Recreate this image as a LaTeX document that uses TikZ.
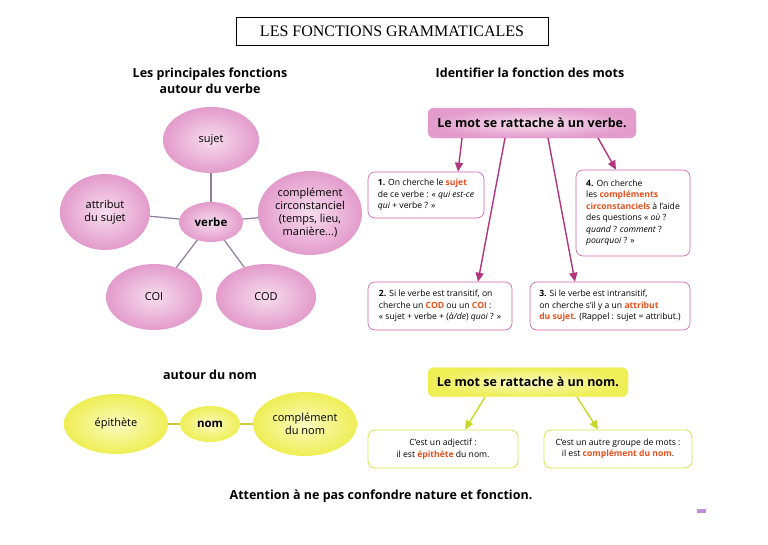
\documentclass[tikz,border=0pt]{standalone}
\usepackage{fontspec}
\setmainfont{Open Sans}
\newfontfamily\titlefont{Liberation Serif}
\usetikzlibrary{arrows.meta,shadings,shapes.geometric}
\definecolor{pinkE}{HTML}{E39BCB}
\definecolor{pinkC}{HTML}{F7DDEE}
\definecolor{pinkB}{HTML}{D25FA8}
\definecolor{yelE}{HTML}{EEEE55}
\definecolor{yelC}{HTML}{FBFBC0}
\definecolor{yelB}{HTML}{D6E64A}
\definecolor{orangeT}{HTML}{E8501E}
\definecolor{arrP}{HTML}{B0347E}
\definecolor{arrY}{HTML}{C5D82A}
\definecolor{lineG}{HTML}{8E7C9A}
\newcommand{\hl}[1]{\textcolor{orangeT}{\textbf{#1}}}
\tikzset{
 x=1pt,y=-1pt,
 pel/.style={ellipse,inner color=pinkC,outer color=pinkE,align=center,font=\fontsize{11}{13}\selectfont,inner sep=0pt},
 yel/.style={ellipse,inner color=yelC,outer color=yelE,align=center,font=\fontsize{11}{13}\selectfont,inner sep=0pt},
 qbox/.style={draw=pinkB,line width=0.6pt,rounded corners=7pt,fill=white,font=\fontsize{8.6}{11.5}\selectfont,align=left,inner sep=3pt},
 ybox/.style={draw=yelB,line width=0.8pt,rounded corners=7pt,fill=white,font=\fontsize{8.6}{11.5}\selectfont,align=center},
 parr/.style={-{Triangle[length=9pt,width=8pt]},arrP,line width=1.4pt},
 yarr/.style={-{Triangle[length=9pt,width=8pt]},arrY,line width=1.4pt},
 conn/.style={lineG,line width=1.2pt},
 head/.style={font=\bfseries\fontsize{12.5}{16}\selectfont,align=center},
 banner/.style={rounded corners=6pt,font=\bfseries\fontsize{12.5}{15}\selectfont},
}
\begin{document}
\begin{tikzpicture}
\useasboundingbox (0,0) rectangle (768,544);
\node[draw,line width=0.8pt,minimum width=312pt,minimum height=28pt,font=\titlefont\fontsize{16}{18}\selectfont] (title) at (392,31) {LES FONCTIONS GRAMMATICALES};
\node[head] (h1) at (210,81) {Les principales fonctions\\autour du verbe};
\node[pel,minimum width=96pt,minimum height=66pt] (sujet) at (211,140) {sujet};
\node[pel,minimum width=90pt,minimum height=76pt] (attr) at (105,212) {attribut\\du sujet};
\node[pel,minimum width=104pt,minimum height=84pt] (comp) at (310,213) {complément\\circonstanciel\\(temps, lieu,\\manière...)};
\node[pel,minimum width=96pt,minimum height=66pt] (coi) at (154,297) {COI};
\node[pel,minimum width=100pt,minimum height=66pt] (cod) at (266,297) {COD};
\coordinate (vc) at (211,222);
\draw[conn] (vc) -- (sujet); \draw[conn] (vc) -- (attr);
\draw[conn] (vc) -- (comp); \draw[conn] (vc) -- (coi); \draw[conn] (vc) -- (cod);
\node[pel,minimum width=64pt,minimum height=40pt,font=\bfseries\fontsize{11.5}{13}\selectfont] (verbe) at (vc) {verbe};
\node[head] (h2) at (210,375) {autour du nom};
\node[yel,minimum width=104pt,minimum height=60pt] (epi) at (116,424) {épithète};
\node[yel,minimum width=104pt,minimum height=64pt] (cdn) at (305,424) {complément\\du nom};
\draw[conn,yelE!70!olive] (epi) -- (cdn);
\node[yel,minimum width=60pt,minimum height=36pt,font=\bfseries\fontsize{11.5}{13}\selectfont] (nom) at (210,424) {nom};
\node[head] (h3) at (530,73) {Identifier la fonction des mots};
\node[banner,inner color=pinkC,outer color=pinkE,draw=pinkE,minimum width=208pt,minimum height=30pt] (mv) at (532,123) {Le mot se rattache à un verbe.};
\node[qbox,minimum width=116pt,minimum height=46pt] (b1) at (426,195) {\textbf{1.} On cherche le \hl{sujet}\\de ce verbe : « \textit{qui est-ce}\\\textit{qui} + verbe ? »};
\node[qbox,minimum width=114pt,minimum height=86pt] (b4) at (633,213) {\textbf{4.} On cherche\\les \hl{compléments}\\\hl{circonstanciels} à l'aide\\des questions « \textit{où} ?\\\textit{quand} ? \textit{comment} ?\\\textit{pourquoi} ? »};
\node[qbox,minimum width=144pt,minimum height=48pt] (b2) at (440,306) {\textbf{2.} Si le verbe est transitif, on\\cherche un \hl{COD} ou un \hl{COI} :\\« sujet + verbe + (\textit{à/de}) \textit{quoi} ? »};
\node[qbox,minimum width=160pt,minimum height=48pt] (b3) at (610,306) {\textbf{3.} Si le verbe est intransitif,\\on cherche s'il y a un \hl{attribut}\\\hl{du sujet}. (Rappel : sujet = attribut.)};
\coordinate (m1) at (462,138); \coordinate (m2) at (505,138);
\coordinate (m3) at (548,138); \coordinate (m4) at (598,138);
\draw[parr] (m1) -- (b1.north -| 458,0);
\draw[parr] (m2) -- (b2.north -| 478,0);
\draw[parr] (m3) -- (b3.north -| 575,0);
\draw[parr] (m4) -- (b4.north -| 616,0);
\node[banner,inner color=yelC,outer color=yelE,draw=yelE,minimum width=200pt,minimum height=29pt] (mn) at (528,382) {Le mot se rattache à un nom.};
\node[ybox,minimum width=150pt,minimum height=38pt] (b5) at (443,449) {C'est un adjectif :\\il est \hl{épithète} du nom.};
\node[ybox,minimum width=148pt,minimum height=38pt] (b6) at (618,449) {C'est un autre groupe de mots :\\il est \hl{complément du nom}.};
\coordinate (n1) at (485,397); \coordinate (n2) at (577,397);
\draw[yarr] (n1) -- (b5.north -| 465,0);
\draw[yarr] (n2) -- (b6.north -| 598,0);
\node[font=\bfseries\fontsize{12.5}{15}\selectfont] (att) at (381,496) {Attention à ne pas confondre nature et fonction.};
\fill[pinkB!70!blue!60] (697,509) rectangle (706,513);
\end{tikzpicture}
\end{document}
